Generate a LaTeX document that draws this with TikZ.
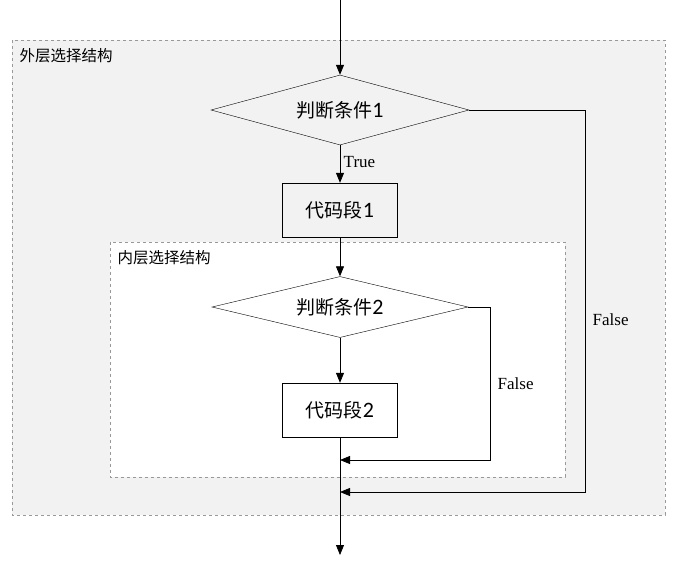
\documentclass[tikz,border=0pt]{standalone}
\usepackage{fontspec}
\setmainfont{Carlito}
\newfontfamily\cjk{Noto Sans CJK SC}
\newfontfamily\tms{Liberation Serif}
\usetikzlibrary{shapes.geometric,arrows.meta}
\newcommand{\dg}[1]{{\fontspec{Carlito}\fontsize{22}{22}\selectfont#1}}
\begin{document}
\begin{tikzpicture}[x=1pt,y=-1pt,
  frame/.style={draw=gray!80,dashed,line width=0.7pt},
  dia/.style={diamond,draw,aspect=3.7,inner sep=0pt,font=\cjk\fontsize{19}{19}\selectfont},
  box/.style={rectangle,draw,minimum width=115pt,minimum height=54pt,font=\cjk\fontsize{19}{19}\selectfont},
  lbl/.style={font=\tms\fontsize{17}{17}\selectfont},
  ttl/.style={font=\cjk\fontsize{15.5}{15.5}\selectfont,anchor=west},
  arr/.style={-{Triangle[length=10pt,width=8pt]},line width=0.8pt},
  ln/.style={line width=0.8pt}]
\useasboundingbox (0,0) rectangle (680,560);
\draw[frame,fill=gray!10] (12,40) rectangle (665,515);
\node[ttl] (t1) at (16,56) {外层选择结构};
\draw[frame,fill=white] (110,242) rectangle (565,477);
\node[ttl] (t2) at (114,258) {内层选择结构};
\coordinate (top) at (340,0);
\coordinate (bot) at (340,555);
\node[dia,minimum width=258pt,minimum height=70pt] (d1) at (340,110) {判断条件\dg{1}};
\node[box] (b1) at (340,210) {代码段\dg{1}};
\node[dia,minimum width=256pt,minimum height=61pt] (d2) at (340,307) {判断条件\dg{2}};
\node[box] (b2) at (340,410) {代码段\dg{2}};
\coordinate (j2) at (340,460);
\coordinate (j1) at (340,492);
\draw[arr] (top) -- (d1.north);
\draw[arr] (d1.south) -- node[lbl,right,pos=0.45] {True} (b1.north);
\draw[arr] (b1.south) -- (d2.north);
\draw[arr] (d2.south) -- (b2.north);
\draw[arr] (b2.south) -- (bot);
\draw[arr] (d2.east) -- (490,307) -- node[lbl,right=4pt,pos=0.5] {False} (490,460) -- (j2);
\draw[arr] (d1.east) -- (585,110) -- node[lbl,right=4pt,pos=0.55] {False} (585,492) -- (j1);
\end{tikzpicture}
\end{document}
